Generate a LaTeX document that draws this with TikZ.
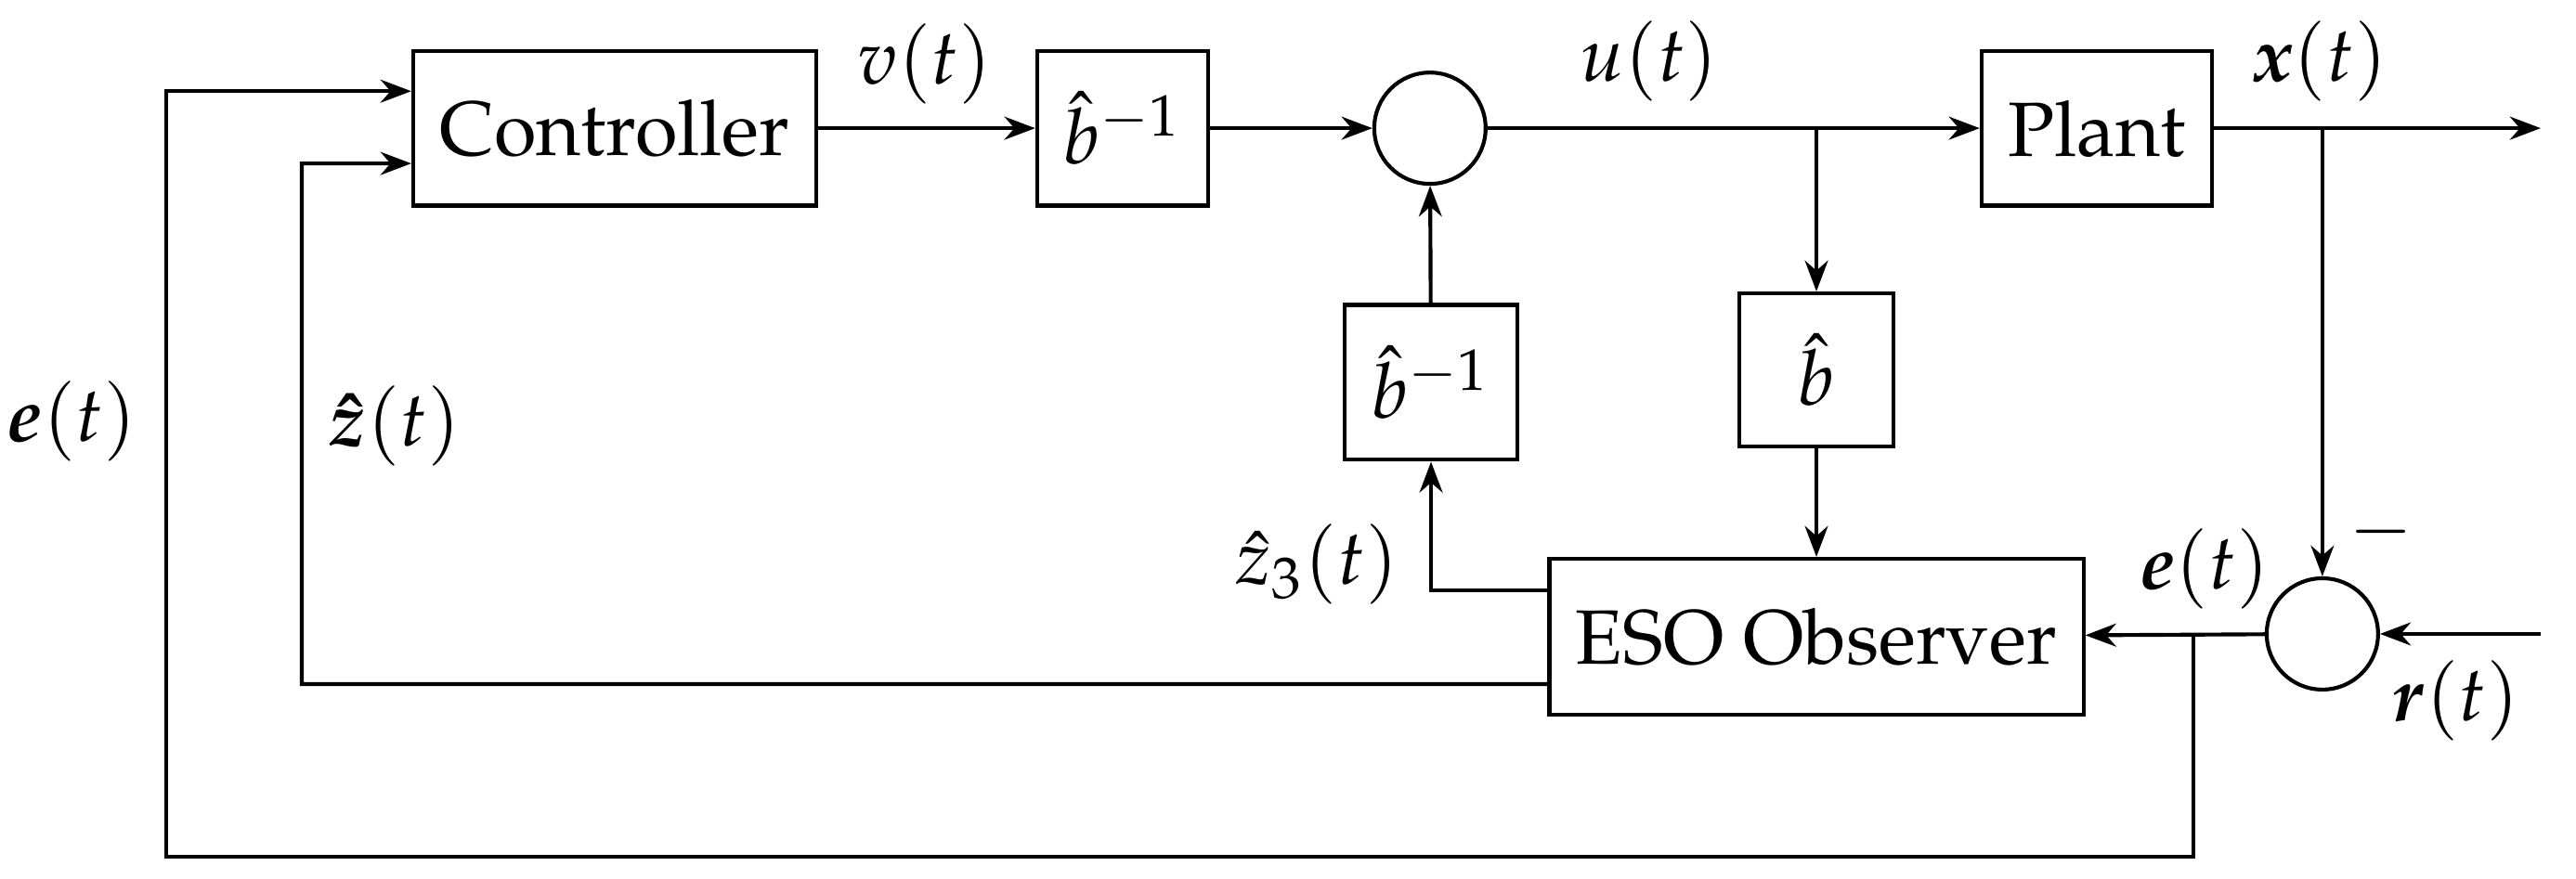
\documentclass[tikz,border=0pt]{standalone}
\usepackage[T1]{fontenc}
\usepackage{amsmath}
\usepackage{amssymb}
\usepackage{mathpazo}
\usepackage{tikz}
\usetikzlibrary{positioning, arrows.meta, shapes}

\begin{document}
\begin{tikzpicture}[line width=0.5pt, >={Stealth[length=4pt,width=3pt]},
    block/.style={shape=rectangle,draw=black,minimum height=0.707cm},
    sumnode/.style={shape=circle,draw=black,minimum size=0.508cm,inner sep=0pt}]
  \useasboundingbox (0,0) rectangle (11.751,-4.011);

  \node[block,minimum width=1.838cm] (ctrl) at (2.804,-0.585) {Controller};
  \node[block,minimum width=0.779cm] (binv) at (5.121,-0.585) {$\hat{b}^{-1}$};
  \node[sumnode] (sum) at (6.523,-0.585) {};
  \node[block,minimum width=1.051cm] (plant) at (9.565,-0.585) {Plant};
  \coordinate (out) at (11.590,-0.585);

  \node[block,minimum width=0.703cm,minimum height=0.699cm] (bhat) at (8.286,-1.688) {$\hat{b}$};
  \node[block,minimum width=0.788cm] (binvz) at (6.528,-1.745) {$\hat{b}^{-1}$};
  \node[block,minimum width=2.436cm,minimum height=0.712cm] (eso) at (8.286,-2.906) {ESO Observer};
  \node[sumnode] (sum2) at (10.594,-2.893) {};
  \coordinate (rin) at (11.590,-2.893);

  \coordinate (ub) at (8.286,-0.585);
  \coordinate (xb) at (10.594,-0.585);
  \coordinate (eb) at (10.005,-2.893);
  \coordinate (el) at (0.758,-3.910);
  \coordinate (zl) at (1.377,-3.122);

  \node (lv) at (4.219,-0.292) {$v(t)$};
  \node (lu) at (7.523,-0.280) {$u(t)$};
  \node (lx) at (10.581,-0.280) {$\boldsymbol{x}(t)$};
  \node (le) at (0.326,-1.923) {$\boldsymbol{e}(t)$};
  \node (lz) at (1.796,-1.944) {$\boldsymbol{\hat{z}}(t)$};
  \node (lz3) at (6.007,-2.576) {$\hat{z}_3(t)$};
  \node (le2) at (10.056,-2.597) {$\boldsymbol{e}(t)$};
  \node (lm) at (10.861,-2.427) {$-$};
  \node (lr) at (11.204,-3.198) {$\boldsymbol{r}(t)$};

  \path [->] (ctrl) edge (binv);
  \path [->] (binv) edge (sum);
  \path [->] (sum) edge (plant);
  \path [->] (plant) edge (out);
  \path [->] (ub) edge (bhat);
  \path [->] (bhat) edge (eso);
  \path [->] (xb) edge (sum2);
  \path [->] (rin) edge (sum2);
  \path [->] (sum2) edge (eso);
  \path [->] (binvz) edge (sum);
  \draw [->] ([yshift=2.12mm]eso.west) -| (binvz.south);
  \draw [->] ([yshift=-2.16mm]eso.west) -- (zl) |- ([yshift=-1.61mm]ctrl.west);
  \draw [->] (eb) |- (el) |- ([yshift=1.69mm]ctrl.west);
\end{tikzpicture}
\end{document}
